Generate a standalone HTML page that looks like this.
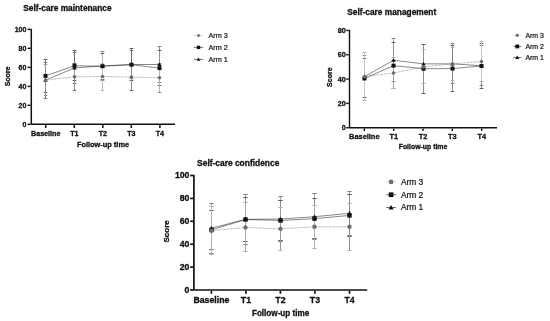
<!DOCTYPE html>
<html><head><meta charset="utf-8"><title>Self-care scores</title>
<style>html,body{margin:0;padding:0;background:#fff}svg{display:block}text{font-family:'Liberation Sans', sans-serif}text[font-weight=bold]{stroke:#111;stroke-width:0.3px;paint-order:stroke}</style></head>
<body><svg width="550" height="321" viewBox="0 0 550 321">
<rect width="550" height="321" fill="#fff"/>
<text x="23.3" y="11.4" font-size="8.32" font-weight="bold" fill="#111">Self-care maintenance</text>
<path d="M45.5 98.5V62.5" stroke="#7a7a7a" stroke-width="1" fill="none"/>
<path d="M43.65 98.5h3.7M43.65 62.5h3.7" stroke="#808080" stroke-width="1" fill="none"/>
<path d="M74.5 83.5V52.5" stroke="#808080" stroke-width="1" fill="none"/>
<path d="M72.65 83.5h3.7M72.65 52.5h3.7" stroke="#808080" stroke-width="1" fill="none"/>
<path d="M102.5 80.5V51.5" stroke="#bdbdbd" stroke-width="1" fill="none"/>
<path d="M100.65 80.5h3.7M100.65 51.5h3.7" stroke="#808080" stroke-width="1" fill="none"/>
<path d="M131.5 78.5V50.5" stroke="#808080" stroke-width="1" fill="none"/>
<path d="M129.65 78.5h3.7M129.65 50.5h3.7" stroke="#808080" stroke-width="1" fill="none"/>
<path d="M159.5 82.5V46.5" stroke="#8c8c8c" stroke-width="1" fill="none"/>
<path d="M157.65 82.5h3.7M157.65 46.5h3.7" stroke="#808080" stroke-width="1" fill="none"/>
<path d="M45.5 92.5V59.5" stroke="#7a7a7a" stroke-width="1" fill="none"/>
<path d="M43.65 92.5h3.7M43.65 59.5h3.7" stroke="#5c5c5c" stroke-width="1" fill="none"/>
<path d="M74.5 80.5V50.5" stroke="#6c6c6c" stroke-width="1" fill="none"/>
<path d="M72.65 80.5h3.7M72.65 50.5h3.7" stroke="#5c5c5c" stroke-width="1" fill="none"/>
<path d="M102.5 79.5V53.5" stroke="#b8b8b8" stroke-width="1" fill="none"/>
<path d="M100.65 79.5h3.7M100.65 53.5h3.7" stroke="#5c5c5c" stroke-width="1" fill="none"/>
<path d="M131.5 80.5V48.5" stroke="#6c6c6c" stroke-width="1" fill="none"/>
<path d="M129.65 80.5h3.7M129.65 48.5h3.7" stroke="#5c5c5c" stroke-width="1" fill="none"/>
<path d="M159.5 85.5V50.5" stroke="#8c8c8c" stroke-width="1" fill="none"/>
<path d="M157.65 85.5h3.7M157.65 50.5h3.7" stroke="#5c5c5c" stroke-width="1" fill="none"/>
<path d="M45.5 95.5V64.5" stroke="#8a8a8a" stroke-width="1" fill="none"/>
<path d="M43.65 95.5h3.7M43.65 64.5h3.7" stroke="#9a9a9a" stroke-width="1" fill="none"/>
<path d="M74.5 90.5V63.5" stroke="#909090" stroke-width="1" fill="none"/>
<path d="M72.65 90.5h3.7M72.65 63.5h3.7" stroke="#707070" stroke-width="1" fill="none"/>
<path d="M102.5 90.5V63.5" stroke="#bdbdbd" stroke-width="1" fill="none"/>
<path d="M100.65 90.5h3.7M100.65 63.5h3.7" stroke="#b4b4b4" stroke-width="1" fill="none"/>
<path d="M131.5 90.5V63.5" stroke="#8c8c8c" stroke-width="1" fill="none"/>
<path d="M129.65 90.5h3.7M129.65 63.5h3.7" stroke="#6a6a6a" stroke-width="1" fill="none"/>
<path d="M159.5 92.5V63.5" stroke="#b4b4b4" stroke-width="1" fill="none"/>
<path d="M157.65 92.5h3.7M157.65 63.5h3.7" stroke="#8a8a8a" stroke-width="1" fill="none"/>
<polyline points="45.5,80.17 74.5,67.93 102.5,65.94 131.5,64.51 159.5,64.51" fill="none" stroke="#222" stroke-width="0.55"/>
<polyline points="45.5,75.90 74.5,65.75 102.5,66.22 131.5,64.70 159.5,68.12" fill="none" stroke="#222" stroke-width="0.55"/>
<polyline points="45.5,80.17 74.5,76.85 102.5,76.57 131.5,77.04 159.5,77.80" fill="none" stroke="#6c6c6c" stroke-width="0.7" stroke-dasharray="0.7 0.7"/>
<path d="M45.5 78.07L47.70 81.77H43.30Z" fill="#111"/>
<path d="M74.5 65.83L76.70 69.53H72.30Z" fill="#111"/>
<path d="M102.5 63.84L104.70 67.54H100.30Z" fill="#111"/>
<path d="M131.5 62.41L133.70 66.11H129.30Z" fill="#111"/>
<path d="M159.5 62.41L161.70 66.11H157.30Z" fill="#111"/>
<rect x="43.50" y="73.90" width="4.0" height="4.0" fill="#111"/>
<rect x="72.50" y="63.75" width="4.0" height="4.0" fill="#111"/>
<rect x="100.50" y="64.22" width="4.0" height="4.0" fill="#111"/>
<rect x="129.50" y="62.70" width="4.0" height="4.0" fill="#111"/>
<rect x="157.50" y="66.12" width="4.0" height="4.0" fill="#111"/>
<circle cx="45.5" cy="80.17" r="1.76" fill="#6e6e6e"/>
<circle cx="74.5" cy="76.85" r="1.76" fill="#6e6e6e"/>
<circle cx="102.5" cy="76.57" r="1.76" fill="#6e6e6e"/>
<circle cx="131.5" cy="77.04" r="1.76" fill="#6e6e6e"/>
<circle cx="159.5" cy="77.80" r="1.76" fill="#6e6e6e"/>
<path d="M31.3 28.65V125.05M30.55 124.3H175" stroke="#111" stroke-width="1.5" fill="none"/>
<path d="M27.650000000000002 124.30h2.9" stroke="#111" stroke-width="1.5"/>
<text x="26.350000000000005" y="127.12" font-size="7.0" font-weight="bold" text-anchor="end" fill="#111">0</text>
<path d="M27.650000000000002 105.32h2.9" stroke="#111" stroke-width="1.5"/>
<text x="26.350000000000005" y="108.14" font-size="7.0" font-weight="bold" text-anchor="end" fill="#111">20</text>
<path d="M27.650000000000002 86.34h2.9" stroke="#111" stroke-width="1.5"/>
<text x="26.350000000000005" y="89.16" font-size="7.0" font-weight="bold" text-anchor="end" fill="#111">40</text>
<path d="M27.650000000000002 67.36h2.9" stroke="#111" stroke-width="1.5"/>
<text x="26.350000000000005" y="70.18" font-size="7.0" font-weight="bold" text-anchor="end" fill="#111">60</text>
<path d="M27.650000000000002 48.38h2.9" stroke="#111" stroke-width="1.5"/>
<text x="26.350000000000005" y="51.20" font-size="7.0" font-weight="bold" text-anchor="end" fill="#111">80</text>
<path d="M27.650000000000002 29.40h2.9" stroke="#111" stroke-width="1.5"/>
<text x="26.350000000000005" y="32.22" font-size="7.0" font-weight="bold" text-anchor="end" fill="#111">100</text>
<path d="M45.7 125.05v2.9" stroke="#111" stroke-width="1.5"/>
<text x="45.7" y="135.6" font-size="7.15" font-weight="bold" text-anchor="middle" fill="#111">Baseline</text>
<path d="M74.3 125.05v2.9" stroke="#111" stroke-width="1.5"/>
<text x="74.3" y="135.6" font-size="7.15" font-weight="bold" text-anchor="middle" fill="#111">T1</text>
<path d="M102.8 125.05v2.9" stroke="#111" stroke-width="1.5"/>
<text x="102.8" y="135.6" font-size="7.15" font-weight="bold" text-anchor="middle" fill="#111">T2</text>
<path d="M131.3 125.05v2.9" stroke="#111" stroke-width="1.5"/>
<text x="131.3" y="135.6" font-size="7.15" font-weight="bold" text-anchor="middle" fill="#111">T3</text>
<path d="M159.9 125.05v2.9" stroke="#111" stroke-width="1.5"/>
<text x="159.9" y="135.6" font-size="7.15" font-weight="bold" text-anchor="middle" fill="#111">T4</text>
<text x="103" y="147.4" font-size="7.4" font-weight="bold" text-anchor="middle" fill="#111">Follow-up time</text>
<text transform="translate(9.5,76.4) rotate(-90)" font-size="7.15" font-weight="bold" text-anchor="middle" fill="#111">Score</text>
<path d="M193.8 35.4h9.4" stroke="#808080" stroke-width="0.6" stroke-dasharray="0.8 0.8"/>
<circle cx="198.5" cy="35.40" r="1.50" fill="#6e6e6e"/>
<text x="208.5" y="37.81" font-size="7.25" fill="#111" stroke="#111" stroke-width="0.2">Arm 3</text>
<path d="M193.8 47.4h9.4" stroke="#111" stroke-width="0.6"/>
<rect x="196.80" y="45.70" width="3.4" height="3.4" fill="#111"/>
<text x="208.5" y="49.81" font-size="7.25" fill="#111" stroke="#111" stroke-width="0.2">Arm 2</text>
<path d="M193.8 59.4h9.4" stroke="#111" stroke-width="0.6"/>
<path d="M198.5 57.62L200.37 60.76H196.63Z" fill="#111"/>
<text x="208.5" y="61.81" font-size="7.25" fill="#111" stroke="#111" stroke-width="0.2">Arm 1</text>
<text x="347.3" y="15.3" font-size="8.34" font-weight="bold" fill="#111">Self-care management</text>
<path d="M364.5 97.5V55.5" stroke="#a2a2a2" stroke-width="1" fill="none"/>
<path d="M362.65 97.5h3.7M362.65 55.5h3.7" stroke="#808080" stroke-width="1" fill="none"/>
<path d="M393.5 81.5V38.5" stroke="#a2a2a2" stroke-width="1" fill="none"/>
<path d="M391.65 81.5h3.7M391.65 38.5h3.7" stroke="#808080" stroke-width="1" fill="none"/>
<path d="M423.5 83.5V44.5" stroke="#a2a2a2" stroke-width="1" fill="none"/>
<path d="M421.65 83.5h3.7M421.65 44.5h3.7" stroke="#808080" stroke-width="1" fill="none"/>
<path d="M452.5 83.5V43.5" stroke="#a2a2a2" stroke-width="1" fill="none"/>
<path d="M450.65 83.5h3.7M450.65 43.5h3.7" stroke="#808080" stroke-width="1" fill="none"/>
<path d="M481.5 85.5V45.5" stroke="#a2a2a2" stroke-width="1" fill="none"/>
<path d="M479.65 85.5h3.7M479.65 45.5h3.7" stroke="#808080" stroke-width="1" fill="none"/>
<path d="M364.5 97.5V58.5" stroke="#8c8c8c" stroke-width="1" fill="none"/>
<path d="M362.65 97.5h3.7M362.65 58.5h3.7" stroke="#5c5c5c" stroke-width="1" fill="none"/>
<path d="M393.5 88.5V42.5" stroke="#8c8c8c" stroke-width="1" fill="none"/>
<path d="M391.65 88.5h3.7M391.65 42.5h3.7" stroke="#5c5c5c" stroke-width="1" fill="none"/>
<path d="M423.5 93.5V44.5" stroke="#8c8c8c" stroke-width="1" fill="none"/>
<path d="M421.65 93.5h3.7M421.65 44.5h3.7" stroke="#5c5c5c" stroke-width="1" fill="none"/>
<path d="M452.5 91.5V45.5" stroke="#8c8c8c" stroke-width="1" fill="none"/>
<path d="M450.65 91.5h3.7M450.65 45.5h3.7" stroke="#5c5c5c" stroke-width="1" fill="none"/>
<path d="M481.5 88.5V43.5" stroke="#8c8c8c" stroke-width="1" fill="none"/>
<path d="M479.65 88.5h3.7M479.65 43.5h3.7" stroke="#5c5c5c" stroke-width="1" fill="none"/>
<path d="M364.5 100.5V52.5" stroke="#c4c4c4" stroke-width="1" fill="none"/>
<path d="M362.65 100.5h3.7M362.65 52.5h3.7" stroke="#b4b4b4" stroke-width="1" fill="none"/>
<path d="M393.5 88.5V57.5" stroke="#a2a2a2" stroke-width="1" fill="none"/>
<path d="M391.65 88.5h3.7M391.65 57.5h3.7" stroke="#b4b4b4" stroke-width="1" fill="none"/>
<path d="M423.5 83.5V49.5" stroke="#8c8c8c" stroke-width="1" fill="none"/>
<path d="M421.65 83.5h3.7M421.65 49.5h3.7" stroke="#b4b4b4" stroke-width="1" fill="none"/>
<path d="M452.5 80.5V47.5" stroke="#828282" stroke-width="1" fill="none"/>
<path d="M450.65 80.5h3.7M450.65 47.5h3.7" stroke="#b4b4b4" stroke-width="1" fill="none"/>
<path d="M481.5 81.5V41.5" stroke="#c0c0c0" stroke-width="1" fill="none"/>
<path d="M479.65 81.5h3.7M479.65 41.5h3.7" stroke="#b4b4b4" stroke-width="1" fill="none"/>
<polyline points="364.5,76.63 393.5,60.21 423.5,63.86 452.5,63.86 481.5,65.68" fill="none" stroke="#222" stroke-width="0.55"/>
<polyline points="364.5,78.45 393.5,65.68 423.5,68.72 452.5,68.60 481.5,65.93" fill="none" stroke="#222" stroke-width="0.55"/>
<polyline points="364.5,76.63 393.5,72.98 423.5,66.90 452.5,63.86 481.5,61.43" fill="none" stroke="#6c6c6c" stroke-width="0.7" stroke-dasharray="0.7 0.7"/>
<path d="M364.5 74.53L366.70 78.23H362.30Z" fill="#111"/>
<path d="M393.5 58.11L395.70 61.81H391.30Z" fill="#111"/>
<path d="M423.5 61.76L425.70 65.46H421.30Z" fill="#111"/>
<path d="M452.5 61.76L454.70 65.46H450.30Z" fill="#111"/>
<path d="M481.5 63.58L483.70 67.28H479.30Z" fill="#111"/>
<rect x="362.50" y="76.45" width="4.0" height="4.0" fill="#111"/>
<rect x="391.50" y="63.68" width="4.0" height="4.0" fill="#111"/>
<rect x="421.50" y="66.72" width="4.0" height="4.0" fill="#111"/>
<rect x="450.50" y="66.60" width="4.0" height="4.0" fill="#111"/>
<rect x="479.50" y="63.93" width="4.0" height="4.0" fill="#111"/>
<circle cx="364.5" cy="76.63" r="1.76" fill="#6e6e6e"/>
<circle cx="393.5" cy="72.98" r="1.76" fill="#6e6e6e"/>
<circle cx="423.5" cy="66.90" r="1.76" fill="#6e6e6e"/>
<circle cx="452.5" cy="63.86" r="1.76" fill="#6e6e6e"/>
<circle cx="481.5" cy="61.43" r="1.76" fill="#6e6e6e"/>
<path d="M349.5 29.72V128.40M348.8 127.7H497" stroke="#111" stroke-width="1.4" fill="none"/>
<path d="M346.2 127.70h2.6" stroke="#111" stroke-width="1.4"/>
<text x="345.7" y="130.29" font-size="7.2" font-weight="bold" text-anchor="end" fill="#111">0</text>
<path d="M346.2 103.38h2.6" stroke="#111" stroke-width="1.4"/>
<text x="345.7" y="105.97" font-size="7.2" font-weight="bold" text-anchor="end" fill="#111">20</text>
<path d="M346.2 79.06h2.6" stroke="#111" stroke-width="1.4"/>
<text x="345.7" y="81.65" font-size="7.2" font-weight="bold" text-anchor="end" fill="#111">40</text>
<path d="M346.2 54.74h2.6" stroke="#111" stroke-width="1.4"/>
<text x="345.7" y="57.33" font-size="7.2" font-weight="bold" text-anchor="end" fill="#111">60</text>
<path d="M346.2 30.42h2.6" stroke="#111" stroke-width="1.4"/>
<text x="345.7" y="33.01" font-size="7.2" font-weight="bold" text-anchor="end" fill="#111">80</text>
<path d="M364.3 128.4v2.6" stroke="#111" stroke-width="1.4"/>
<text x="364.3" y="138.5" font-size="7.4" font-weight="bold" text-anchor="middle" fill="#111">Baseline</text>
<path d="M393.7 128.4v2.6" stroke="#111" stroke-width="1.4"/>
<text x="393.7" y="138.5" font-size="7.4" font-weight="bold" text-anchor="middle" fill="#111">T1</text>
<path d="M423 128.4v2.6" stroke="#111" stroke-width="1.4"/>
<text x="423" y="138.5" font-size="7.4" font-weight="bold" text-anchor="middle" fill="#111">T2</text>
<path d="M452.3 128.4v2.6" stroke="#111" stroke-width="1.4"/>
<text x="452.3" y="138.5" font-size="7.4" font-weight="bold" text-anchor="middle" fill="#111">T3</text>
<path d="M481.7 128.4v2.6" stroke="#111" stroke-width="1.4"/>
<text x="481.7" y="138.5" font-size="7.4" font-weight="bold" text-anchor="middle" fill="#111">T4</text>
<text x="423" y="149.4" font-size="6.9" font-weight="bold" text-anchor="middle" fill="#111">Follow-up time</text>
<text transform="translate(332.3,77.2) rotate(-90)" font-size="7" font-weight="bold" text-anchor="middle" fill="#111">Score</text>
<path d="M513.3 35.3h8" stroke="#808080" stroke-width="0.6" stroke-dasharray="0.8 0.8"/>
<circle cx="517.3" cy="35.30" r="1.67" fill="#6e6e6e"/>
<text x="525.4" y="37.60" font-size="6.95" fill="#111" stroke="#111" stroke-width="0.2">Arm 3</text>
<path d="M513.3 46.449999999999996h8" stroke="#111" stroke-width="0.6"/>
<rect x="515.40" y="44.55" width="3.8" height="3.8" fill="#111"/>
<text x="525.4" y="48.75" font-size="6.95" fill="#111" stroke="#111" stroke-width="0.2">Arm 2</text>
<path d="M513.3 57.599999999999994h8" stroke="#111" stroke-width="0.6"/>
<path d="M517.3 55.60L519.39 59.12H515.21Z" fill="#111"/>
<text x="525.4" y="59.90" font-size="6.95" fill="#111" stroke="#111" stroke-width="0.2">Arm 1</text>
<text x="197.1" y="165.5" font-size="8.42" font-weight="bold" fill="#111">Self-care confidence</text>
<path d="M211.5 253.5V203.5" stroke="#a2a2a2" stroke-width="1" fill="none"/>
<path d="M209.3 253.5h4.4M209.3 203.5h4.4" stroke="#808080" stroke-width="1" fill="none"/>
<path d="M245.5 244.5V194.5" stroke="#a2a2a2" stroke-width="1" fill="none"/>
<path d="M243.3 244.5h4.4M243.3 194.5h4.4" stroke="#808080" stroke-width="1" fill="none"/>
<path d="M280.5 241.5V196.5" stroke="#a2a2a2" stroke-width="1" fill="none"/>
<path d="M278.3 241.5h4.4M278.3 196.5h4.4" stroke="#808080" stroke-width="1" fill="none"/>
<path d="M314.5 239.5V193.5" stroke="#a2a2a2" stroke-width="1" fill="none"/>
<path d="M312.3 239.5h4.4M312.3 193.5h4.4" stroke="#808080" stroke-width="1" fill="none"/>
<path d="M349.5 235.5V191.5" stroke="#a2a2a2" stroke-width="1" fill="none"/>
<path d="M347.3 235.5h4.4M347.3 191.5h4.4" stroke="#808080" stroke-width="1" fill="none"/>
<path d="M211.5 249.5V210.5" stroke="#8c8c8c" stroke-width="1" fill="none"/>
<path d="M209.3 249.5h4.4M209.3 210.5h4.4" stroke="#5c5c5c" stroke-width="1" fill="none"/>
<path d="M245.5 241.5V197.5" stroke="#8c8c8c" stroke-width="1" fill="none"/>
<path d="M243.3 241.5h4.4M243.3 197.5h4.4" stroke="#5c5c5c" stroke-width="1" fill="none"/>
<path d="M280.5 240.5V200.5" stroke="#8c8c8c" stroke-width="1" fill="none"/>
<path d="M278.3 240.5h4.4M278.3 200.5h4.4" stroke="#5c5c5c" stroke-width="1" fill="none"/>
<path d="M314.5 238.5V198.5" stroke="#8c8c8c" stroke-width="1" fill="none"/>
<path d="M312.3 238.5h4.4M312.3 198.5h4.4" stroke="#5c5c5c" stroke-width="1" fill="none"/>
<path d="M349.5 236.5V194.5" stroke="#8c8c8c" stroke-width="1" fill="none"/>
<path d="M347.3 236.5h4.4M347.3 194.5h4.4" stroke="#5c5c5c" stroke-width="1" fill="none"/>
<path d="M211.5 254.5V206.5" stroke="#b4b4b4" stroke-width="1" fill="none"/>
<path d="M209.3 254.5h4.4M209.3 206.5h4.4" stroke="#b4b4b4" stroke-width="1" fill="none"/>
<path d="M245.5 251.5V202.5" stroke="#a8a8a8" stroke-width="1" fill="none"/>
<path d="M243.3 251.5h4.4M243.3 202.5h4.4" stroke="#b4b4b4" stroke-width="1" fill="none"/>
<path d="M280.5 250.5V207.5" stroke="#969696" stroke-width="1" fill="none"/>
<path d="M278.3 250.5h4.4M278.3 207.5h4.4" stroke="#b4b4b4" stroke-width="1" fill="none"/>
<path d="M314.5 248.5V205.5" stroke="#b0b0b0" stroke-width="1" fill="none"/>
<path d="M312.3 248.5h4.4M312.3 205.5h4.4" stroke="#b4b4b4" stroke-width="1" fill="none"/>
<path d="M349.5 250.5V203.5" stroke="#8c8c8c" stroke-width="1" fill="none"/>
<path d="M347.3 250.5h4.4M347.3 203.5h4.4" stroke="#b4b4b4" stroke-width="1" fill="none"/>
<polyline points="211.5,228.17 245.5,219.35 280.5,219.01 314.5,216.72 349.5,213.28" fill="none" stroke="#222" stroke-width="0.55"/>
<polyline points="211.5,229.89 245.5,219.47 280.5,220.50 314.5,218.67 349.5,215.46" fill="none" stroke="#222" stroke-width="0.55"/>
<polyline points="211.5,230.69 245.5,227.48 280.5,228.86 314.5,226.80 349.5,226.80" fill="none" stroke="#6c6c6c" stroke-width="0.7" stroke-dasharray="0.7 0.7"/>
<path d="M211.5 225.86L213.92 229.93H209.08Z" fill="#111"/>
<path d="M245.5 217.04L247.92 221.11H243.08Z" fill="#111"/>
<path d="M280.5 216.70L282.92 220.77H278.08Z" fill="#111"/>
<path d="M314.5 214.41L316.92 218.48H312.08Z" fill="#111"/>
<path d="M349.5 210.97L351.92 215.04H347.08Z" fill="#111"/>
<rect x="209.30" y="227.69" width="4.4" height="4.4" fill="#111"/>
<rect x="243.30" y="217.27" width="4.4" height="4.4" fill="#111"/>
<rect x="278.30" y="218.30" width="4.4" height="4.4" fill="#111"/>
<rect x="312.30" y="216.47" width="4.4" height="4.4" fill="#111"/>
<rect x="347.30" y="213.26" width="4.4" height="4.4" fill="#111"/>
<circle cx="211.5" cy="230.69" r="2.20" fill="#6e6e6e"/>
<circle cx="245.5" cy="227.48" r="2.20" fill="#6e6e6e"/>
<circle cx="280.5" cy="228.86" r="2.20" fill="#6e6e6e"/>
<circle cx="314.5" cy="226.80" r="2.20" fill="#6e6e6e"/>
<circle cx="349.5" cy="226.80" r="2.20" fill="#6e6e6e"/>
<path d="M193.9 174.65V290.85M193.05 290H367.2" stroke="#111" stroke-width="1.7" fill="none"/>
<path d="M190.15 290.00h2.9" stroke="#111" stroke-width="1.7"/>
<text x="189.45" y="292.93" font-size="8.7" font-weight="bold" text-anchor="end" fill="#111">0</text>
<path d="M190.15 267.10h2.9" stroke="#111" stroke-width="1.7"/>
<text x="189.45" y="270.03" font-size="8.7" font-weight="bold" text-anchor="end" fill="#111">20</text>
<path d="M190.15 244.20h2.9" stroke="#111" stroke-width="1.7"/>
<text x="189.45" y="247.13" font-size="8.7" font-weight="bold" text-anchor="end" fill="#111">40</text>
<path d="M190.15 221.30h2.9" stroke="#111" stroke-width="1.7"/>
<text x="189.45" y="224.23" font-size="8.7" font-weight="bold" text-anchor="end" fill="#111">60</text>
<path d="M190.15 198.40h2.9" stroke="#111" stroke-width="1.7"/>
<text x="189.45" y="201.33" font-size="8.7" font-weight="bold" text-anchor="end" fill="#111">80</text>
<path d="M190.15 175.50h2.9" stroke="#111" stroke-width="1.7"/>
<text x="189.45" y="178.43" font-size="8.7" font-weight="bold" text-anchor="end" fill="#111">100</text>
<path d="M211.4 290.85v2.9" stroke="#111" stroke-width="1.7"/>
<text x="211.4" y="303.1" font-size="8.75" font-weight="bold" text-anchor="middle" fill="#111">Baseline</text>
<path d="M245.9 290.85v2.9" stroke="#111" stroke-width="1.7"/>
<text x="245.9" y="303.1" font-size="8.75" font-weight="bold" text-anchor="middle" fill="#111">T1</text>
<path d="M280.4 290.85v2.9" stroke="#111" stroke-width="1.7"/>
<text x="280.4" y="303.1" font-size="8.75" font-weight="bold" text-anchor="middle" fill="#111">T2</text>
<path d="M314.9 290.85v2.9" stroke="#111" stroke-width="1.7"/>
<text x="314.9" y="303.1" font-size="8.75" font-weight="bold" text-anchor="middle" fill="#111">T3</text>
<path d="M349.5 290.85v2.9" stroke="#111" stroke-width="1.7"/>
<text x="349.5" y="303.1" font-size="8.75" font-weight="bold" text-anchor="middle" fill="#111">T4</text>
<text x="280.6" y="315.6" font-size="8.15" font-weight="bold" text-anchor="middle" fill="#111">Follow-up time</text>
<text transform="translate(169.4,231.4) rotate(-90)" font-size="8.0" font-weight="bold" text-anchor="middle" fill="#111">Score</text>
<path d="M386.20000000000005 181.9h9.8" stroke="#808080" stroke-width="0.6" stroke-dasharray="0.8 0.8"/>
<circle cx="391.1" cy="181.90" r="2.35" fill="#6e6e6e"/>
<text x="400.9" y="184.72" font-size="8.4" fill="#111" stroke="#111" stroke-width="0.2">Arm 3</text>
<path d="M386.20000000000005 194.70000000000002h9.8" stroke="#111" stroke-width="0.6"/>
<rect x="388.75" y="192.35" width="4.7" height="4.7" fill="#111"/>
<text x="400.9" y="197.52" font-size="8.4" fill="#111" stroke="#111" stroke-width="0.2">Arm 2</text>
<path d="M386.20000000000005 207.5h9.8" stroke="#111" stroke-width="0.6"/>
<path d="M391.1 205.03L393.69 209.38H388.52Z" fill="#111"/>
<text x="400.9" y="210.32" font-size="8.4" fill="#111" stroke="#111" stroke-width="0.2">Arm 1</text>
</svg></body></html>
